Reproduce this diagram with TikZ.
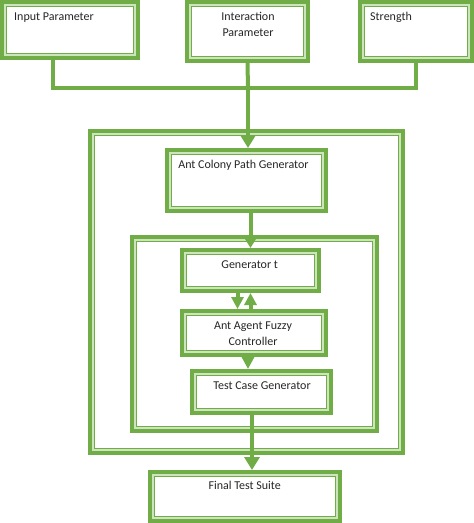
\documentclass[tikz,border=0pt]{standalone}
\usepackage{fontspec}
\setmainfont{Carlito}
\usetikzlibrary{positioning}
\usetikzlibrary{arrows.meta}
\definecolor{boxgreen}{RGB}{112,173,71}
\definecolor{palegreen}{RGB}{205,228,190}
\tikzstyle{gbox}=[draw=boxgreen,line width=4pt,fill=white,inner sep=0pt,
  path picture={
    \draw[palegreen,line width=1.6pt] ([shift={(2.8pt,2.8pt)}]path picture bounding box.south west) rectangle ([shift={(-2.8pt,-2.8pt)}]path picture bounding box.north east);
    \draw[boxgreen,line width=1.2pt] ([shift={(4.4pt,4.4pt)}]path picture bounding box.south west) rectangle ([shift={(-4.4pt,-4.4pt)}]path picture bounding box.north east);
  }]
\tikzstyle{conn} = [draw=boxgreen,line width=4pt]
\tikzstyle{arr} = [conn,-{Triangle[width=15pt,length=13pt]}]
\tikzstyle{smallarr} = [conn,-{Triangle[width=12pt,length=12pt]}]
\tikzstyle{lbl} = [font=\fontsize{12}{15.5}\selectfont,inner sep=0pt,align=center,text=black!85]

\begin{document}
\begin{tikzpicture}[x=1pt,y=-1pt]
    \useasboundingbox (0,0) rectangle (474,523);

    \foreach \name/\pos/\w/\h in {{outer/(246.5,292)/313/322}, {inner/(254.5,334)/245/194},
        {inp/(70,30)/136/56}, {int/(247.5,31.5)/121/59}, {str/(416,31.5)/112/59},
        {acp/(246.5,180.5)/159/61}, {gen/(250.5,270.5)/137/41}, {agt/(254,333)/144/44},
        {tcg/(261.5,392)/139/42}, {fin/(245,496.5)/190/49}}
        \node[gbox,minimum width=\w pt,minimum height=\h pt] (\name) at \pos {};

    % two-line texts sit on the baseline of their last line
    \foreach \name/\pos/\anc/\txt in {{inp/(14,20.7)/base west/Input Parameter},
        {int/(248,36)/base/{Interaction\\Parameter}}, {str/(370,20.7)/base west/Strength},
        {acp/(243.5,168.3)/base/Ant Colony Path Generator}, {gen/(249.7,268.3)/base/Generator t},
        {agt/(253,345)/base/{Ant Agent Fuzzy\\Controller}}, {tcg/(262,389.3)/base/Test Case Generator},
        {fin/(244.7,489.3)/base/Final Test Suite}}
        \node[lbl,anchor=\anc] (\name-t) at \pos {\txt};

    % inputs to the path generator
    \coordinate (bus) at (248,88);
    \draw[conn] ([xshift=-17pt]inp.south) |- (bus) -| (str.south);
    \draw[conn] (int.south) -- (bus);
    \draw[arr] (bus) -- (bus |- acp.north);

    \draw[arr] (gen.north |- acp.south) -- (gen.north);
    \draw[smallarr] ([xshift=-13pt]gen.south) -- ([xshift=-13pt]gen.south |- agt.north);
    \draw[smallarr] (gen.south |- agt.north) -- (gen.south);
    \draw[smallarr] ([xshift=-6pt]agt.south) -- ([xshift=-6pt]agt.south |- tcg.north);
    \draw[arr] ([xshift=-9.5pt]tcg.south) -- ([xshift=-9.5pt]tcg.south |- fin.north);

\end{tikzpicture}
\end{document}
